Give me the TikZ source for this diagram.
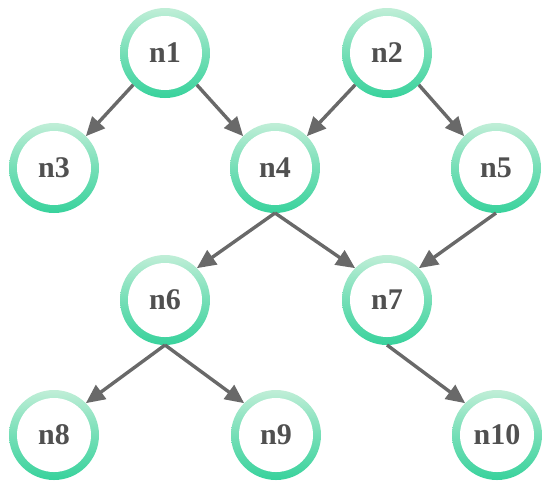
\documentclass[tikz,border=0pt]{standalone}
\usepackage{fontspec}
\setmainfont{Liberation Serif}
\usetikzlibrary{arrows.meta}
\definecolor{ringtop}{RGB}{192,238,215}
\definecolor{ringbot}{RGB}{56,210,156}
\definecolor{edgegray}{RGB}{105,105,105}
\definecolor{labelgray}{RGB}{80,80,80}
\begin{document}
\begin{tikzpicture}[x=0.5pt,y=-0.5pt,
    vertex/.style={circle,minimum size=45pt,inner sep=0pt,outer sep=0pt,
        text=labelgray,font=\fontsize{15}{15}\selectfont\bfseries,
        path picture={
            \shade[top color=ringtop,bottom color=ringbot,middle color=ringbot!55!ringtop] (path picture bounding box.south west) rectangle (path picture bounding box.north east);
            \fill[white] (path picture bounding box.center) circle (18.5pt);}},
    link/.style={draw=edgegray,line width=1.7pt,-{Triangle[length=9.5pt,width=8.5pt]}}]
        \useasboundingbox (0,0) rectangle (550,489);
        \node[vertex] (n1) at (165,53) {n1};
        \node[vertex] (n2) at (387,53) {n2};
        \node[vertex] (n3) at (54,168) {n3};
        \node[vertex] (n4) at (275,168) {n4};
        \node[vertex] (n5) at (496,168) {n5};
        \node[vertex] (n6) at (165,300) {n6};
        \node[vertex] (n7) at (387,300) {n7};
        \node[vertex] (n8) at (54,435) {n8};
        \node[vertex] (n9) at (276,435) {n9};
        \node[vertex] (n10) at (497,435) {n10};
        \draw[link] (n1.south west) -- (n3.north east);
        \draw[link] (n1.south east) -- (n4.north west);
        \draw[link] (n2.south west) -- (n4.north east);
        \draw[link] (n2.south east) -- (n5.north west);
        \draw[link] (n4.south) -- (n6.north east);
        \draw[link] (n4.south) -- (n7.north west);
        \draw[link] (n5.south) -- (n7.north east);
        \draw[link] (n6.south) -- (n8.north east);
        \draw[link] (n6.south) -- (n9.north west);
        \draw[link] (n7.south) -- (n10.north west);
    \end{tikzpicture}
\end{document}
